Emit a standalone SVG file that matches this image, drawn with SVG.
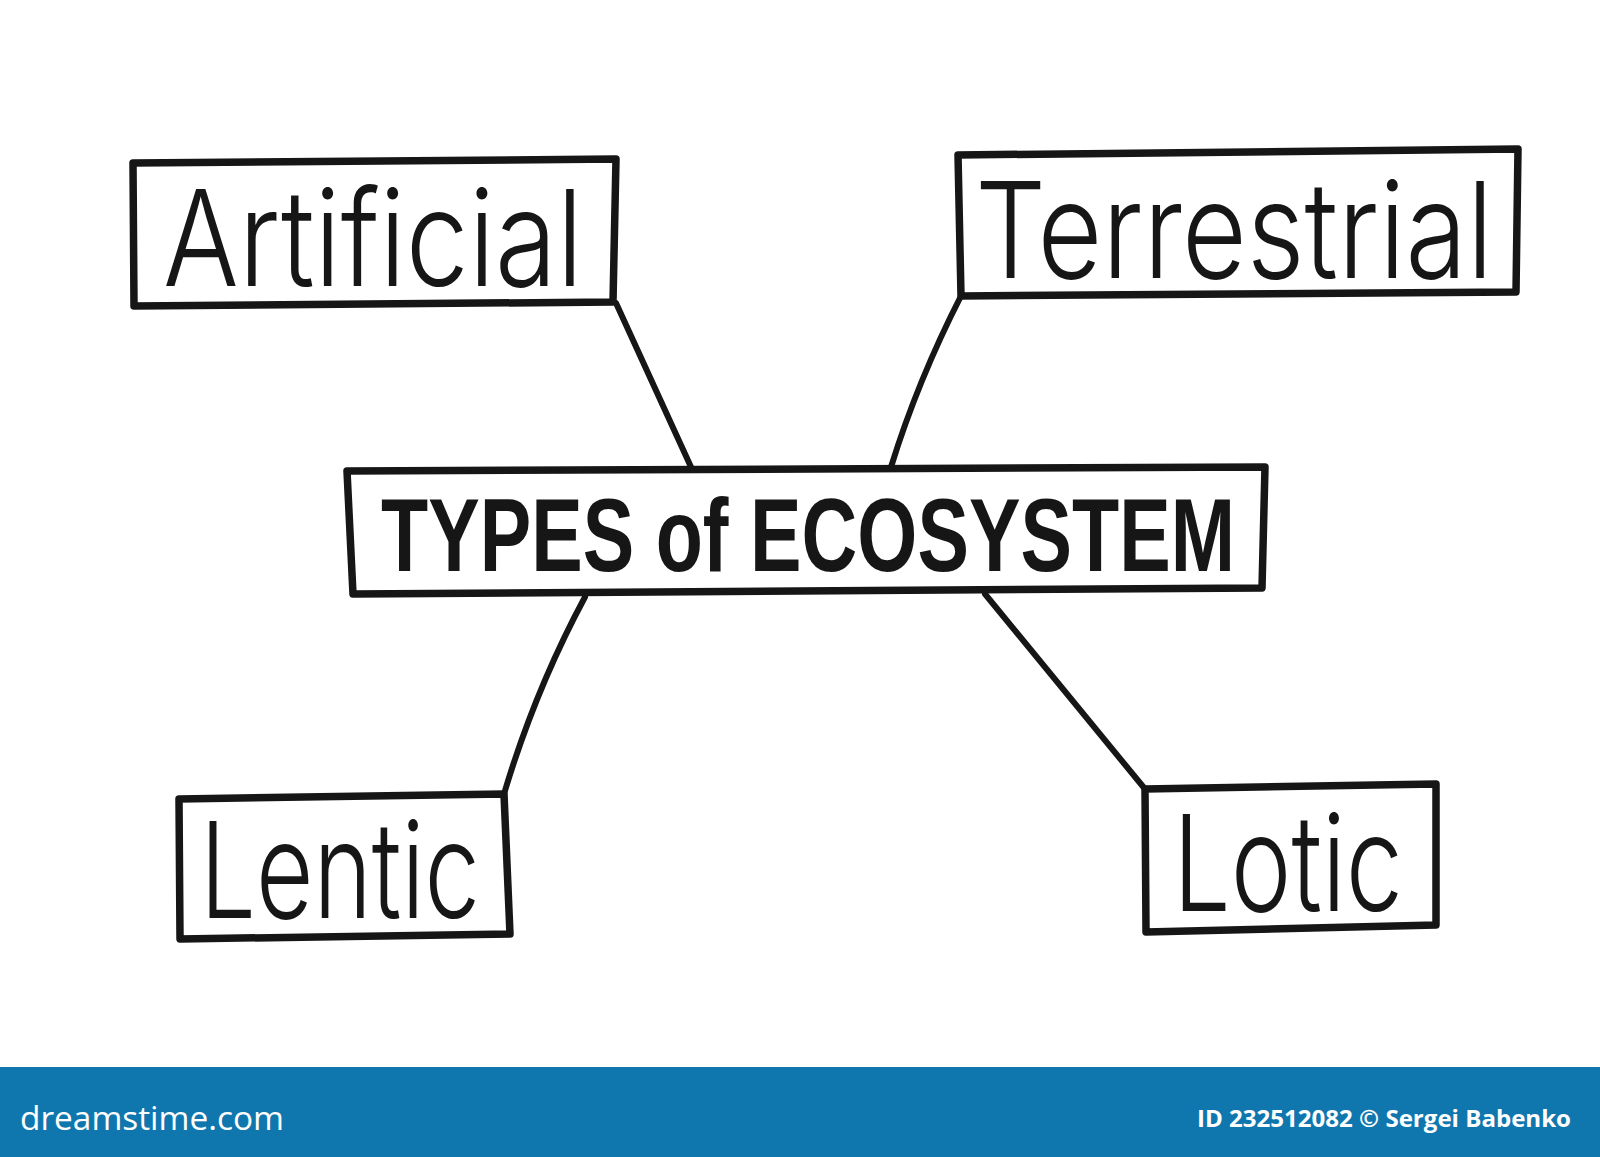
<svg xmlns="http://www.w3.org/2000/svg" width="1600" height="1157" viewBox="0 0 1600 1157">
<style>
.box{fill:#fff;stroke:#161616;stroke-width:7.5;stroke-linejoin:round;stroke-linecap:round}
.edge{fill:none;stroke:#161616;stroke-width:6;stroke-linecap:round}
.lbl{font-family:Inter,"Liberation Sans",sans-serif;font-weight:300;font-size:134px;fill:#161616}
.title{font-family:"Liberation Sans",Arial,sans-serif;font-weight:bold;font-size:104px;fill:#161616}
.ban{font-family:"Open Sans","Liberation Sans",sans-serif;fill:#fff}
</style>
<rect width="1600" height="1157" fill="#fff"/>
<g id="connectors">
<path class="edge" d="M616,303 L691,467"/>
<path class="edge" d="M961,296 Q918,380 891,467"/>
<path class="edge" d="M585,597 Q535,690 504,794"/>
<path class="edge" d="M985,594 L1145,789"/>
</g>
<g id="node-center">
<path class="box" d="M347,471 L1265,467 L1262,588 L353,594 Z"/>
<text class="title" x="381" y="571" textLength="854" lengthAdjust="spacingAndGlyphs">TYPES of ECOSYSTEM</text>
</g>
<g id="node-artificial">
<path class="box" d="M133,163 L616,159 L613,302 L134,306 Z"/>
<text class="lbl" x="163" y="286" textLength="420" lengthAdjust="spacingAndGlyphs">Artificial</text>
</g>
<g id="node-terrestrial">
<path class="box" d="M958,155 L1518,149 L1516,292 L961,296 Z"/>
<text class="lbl" x="975" y="278" textLength="518" lengthAdjust="spacingAndGlyphs">Terrestrial</text>
</g>
<g id="node-lentic">
<path class="box" d="M179,799 L504,794 L510,934 L180,939 Z"/>
<text class="lbl" x="200" y="918" textLength="280" lengthAdjust="spacingAndGlyphs">Lentic</text>
</g>
<g id="node-lotic">
<path class="box" d="M1145,789 L1436,784 L1436,925 L1146,932 Z"/>
<text class="lbl" x="1173" y="911" textLength="230" lengthAdjust="spacingAndGlyphs">Lotic</text>
</g>
<g id="banner">
<rect x="0" y="1067" width="1600" height="90" fill="#1077ae"/>
<text class="ban" x="20" y="1130" font-size="32" textLength="264" lengthAdjust="spacingAndGlyphs">dreamstime.com</text>
<text class="ban" x="1197" y="1127" font-size="24" font-weight="bold" textLength="374" lengthAdjust="spacingAndGlyphs">ID 232512082 © Sergei Babenko</text>
</g>
</svg>
